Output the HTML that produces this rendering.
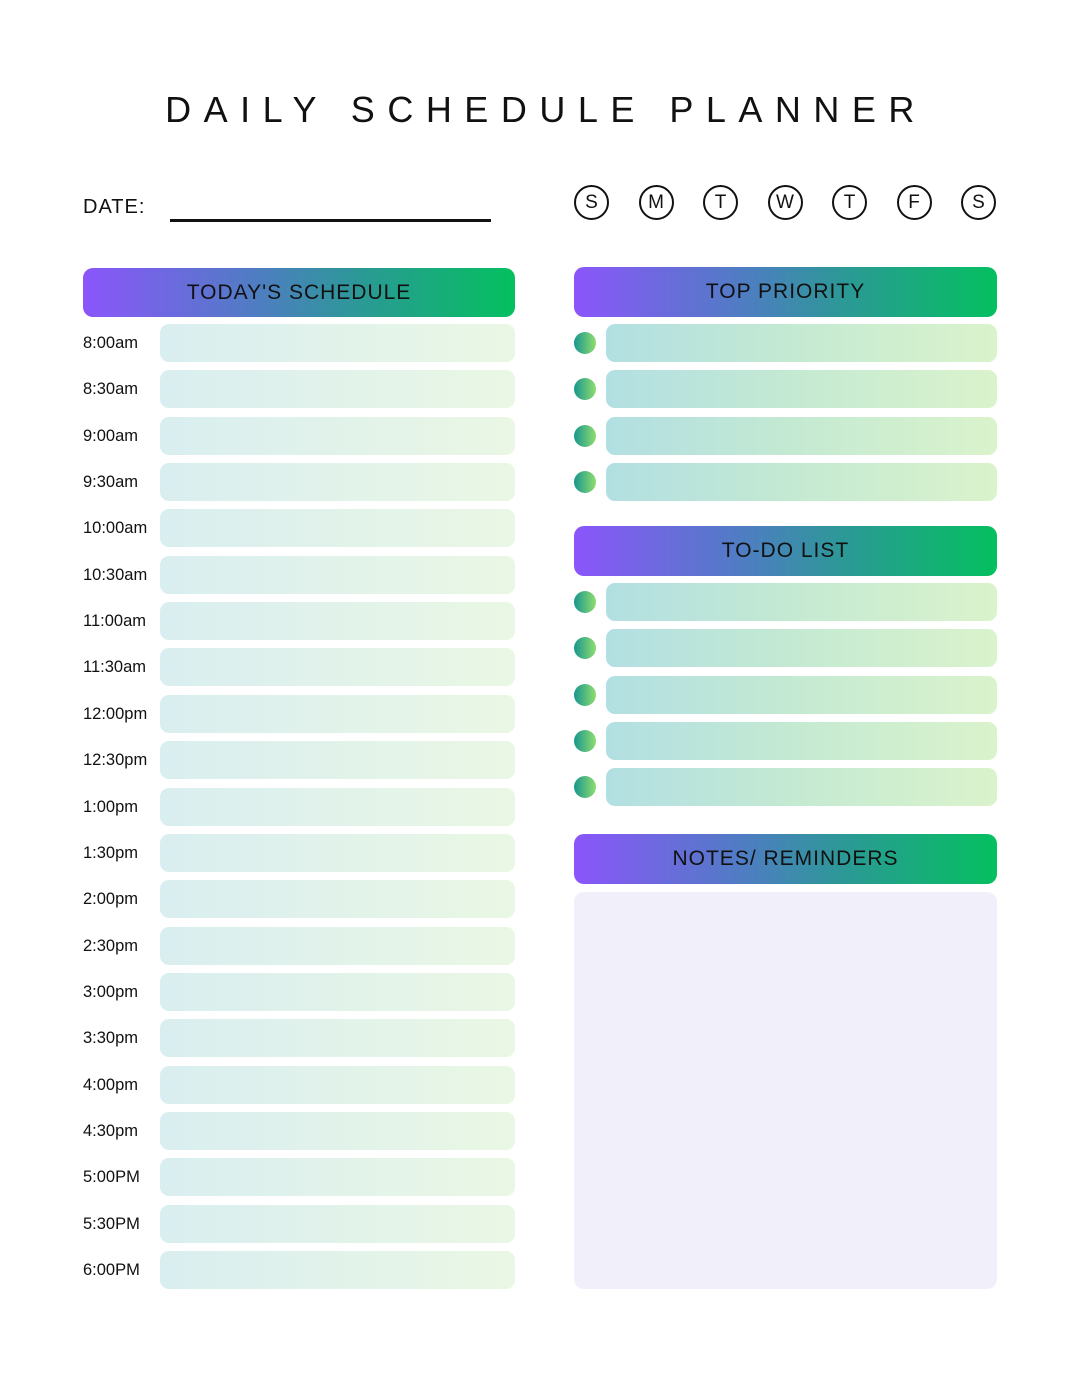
<!DOCTYPE html>
<html><head><meta charset="utf-8"><style>
*{margin:0;padding:0;box-sizing:border-box}
body{width:1080px;height:1398px;background:#fff;position:relative;font-family:"Liberation Sans",sans-serif;color:#111;overflow:hidden}
.a{position:absolute}
.hdr{position:absolute;border-radius:10px;background:linear-gradient(90deg,#8b55fb,#4f7dc3 40%,#2a9a94 65%,#04c05f);display:flex;align-items:center;justify-content:center;font-size:21px;letter-spacing:1px;color:#111}
.row{position:absolute;height:38px;border-radius:9px;background:linear-gradient(90deg,#d9eef0,#eaf7e4)}
.prow{position:absolute;height:38px;border-radius:9px;background:linear-gradient(90deg,#b2dfe2,#c5ead2 50%,#daf3cc)}
.lbl{position:absolute;left:83px;font-size:16.5px}
.dot{position:absolute;left:574px;width:22px;height:22px;border-radius:50%;background:linear-gradient(90deg,#19968f,#8ede6e)}
.day{position:absolute;width:35px;height:35px;border:2px solid #111;border-radius:50%;display:flex;align-items:center;justify-content:center;font-size:19px;top:185px}
</style></head><body>
<div class="a" style="left:0;width:1080px;top:89px;text-align:center;font-size:36px;letter-spacing:12.5px;padding-left:12px">DAILY SCHEDULE PLANNER</div>
<div class="a" style="left:83px;top:196px;font-size:20px;letter-spacing:1px">DATE:</div>
<div class="a" style="left:170px;top:219px;width:321px;height:3px;background:#111"></div>
<div class="hdr" style="left:83px;top:268px;width:432px;height:49px">TODAY'S SCHEDULE</div>
<div class="hdr" style="left:574px;top:267px;width:423px;height:50px">TOP PRIORITY</div>
<div class="hdr" style="left:574px;top:526px;width:423px;height:50px">TO-DO LIST</div>
<div class="hdr" style="left:574px;top:834px;width:423px;height:50px">NOTES/ REMINDERS</div>
<div class="a" style="left:574px;top:892px;width:423px;height:397px;border-radius:10px;background:#f1f0fa"></div>
<script>
const days=["S","M","T","W","T","F","S"];
const times=["8:00am","8:30am","9:00am","9:30am","10:00am","10:30am","11:00am","11:30am","12:00pm","12:30pm","1:00pm","1:30pm","2:00pm","2:30pm","3:00pm","3:30pm","4:00pm","4:30pm","5:00PM","5:30PM","6:00PM"];
const priorityCount=4, todoCount=5;
const P=46.35;
days.forEach((d,i)=>{const e=document.createElement('div');e.className='day';e.style.left=(574+i*64.5)+'px';e.textContent=d;


document.body.appendChild(e);});
times.forEach((t,i)=>{const y=324+i*P;
const l=document.createElement('div');l.className='lbl';l.style.top=(y+10)+'px';l.textContent=t;


document.body.appendChild(l);
const r=document.createElement('div');r.className='row';r.style.left='160px';r.style.width='355px';r.style.top=y+'px';


document.body.appendChild(r);});
function list(top,n,name){for(let i=0;i<n;i++){const y=top+i*P;
const d=document.createElement('div');d.className='dot';d.style.top=(y+8)+'px';


document.body.appendChild(d);
const r=document.createElement('div');r.className='prow';r.style.left='606px';r.style.width='391px';r.style.top=y+'px';


document.body.appendChild(r);}}
list(324,priorityCount,'priority');
list(583,todoCount,'todo');
</script>
</body></html>
